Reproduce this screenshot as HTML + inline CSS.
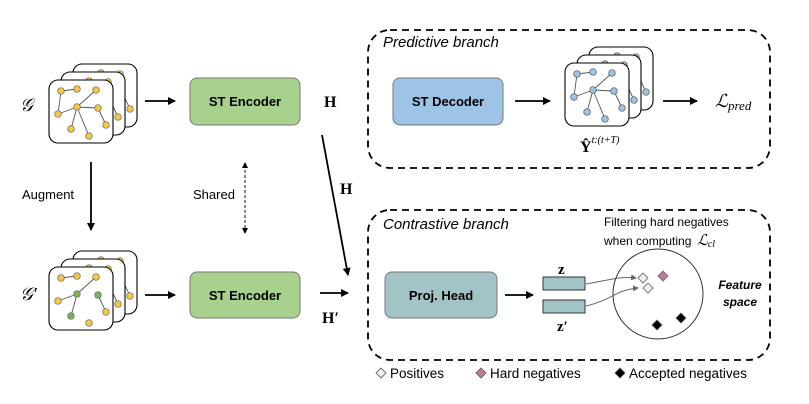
<!DOCTYPE html>
<html><head><style>body{margin:0;background:#fff}svg{display:block}.s{font-family:"Liberation Sans",sans-serif}.r{font-family:"Liberation Serif",serif}</style></head><body>
<svg width="809" height="404" viewBox="0 0 809 404" xmlns="http://www.w3.org/2000/svg">
<defs>
<marker id="a" markerWidth="8" markerHeight="8" refX="7" refY="4" orient="auto" markerUnits="userSpaceOnUse"><path d="M0,0 L8,4 L0,8 z" fill="#000"/></marker>
<marker id="s" markerWidth="6" markerHeight="6" refX="5" refY="3" orient="auto" markerUnits="userSpaceOnUse"><path d="M0,0 L6,3 L0,6 z" fill="#666"/></marker>
<g id="edgesA" stroke="#555" stroke-width="0.9">
<line x1="12" y1="11" x2="28" y2="9"/><line x1="12" y1="11" x2="9" y2="34"/><line x1="9" y1="34" x2="28" y2="27"/><line x1="28" y1="27" x2="47" y2="10"/><line x1="28" y1="27" x2="49" y2="28"/><line x1="49" y1="28" x2="57" y2="45"/><line x1="28" y1="27" x2="22" y2="49"/><line x1="28" y1="27" x2="40" y2="56"/></g>
<g id="card"><rect x="0" y="0" width="64" height="63" rx="9" fill="#fff" stroke="#000" stroke-width="1.1"/></g>
<g id="gY"><use href="#card"/><use href="#edgesA"/><g fill="#f5c842" stroke="#666" stroke-width="0.7">
<circle cx="12" cy="11" r="3.3"/><circle cx="28" cy="9" r="3.3"/><circle cx="47" cy="10" r="3.3"/><circle cx="9" cy="34" r="3.3"/><circle cx="28" cy="27" r="3.3"/><circle cx="49" cy="28" r="3.3"/><circle cx="57" cy="45" r="3.3"/><circle cx="22" cy="49" r="3.3"/><circle cx="40" cy="56" r="3.3"/></g></g>
<g id="gB"><use href="#card"/><use href="#edgesA"/><g fill="#9dc3e6" stroke="#555" stroke-width="0.7">
<circle cx="12" cy="11" r="3.3"/><circle cx="28" cy="9" r="3.3"/><circle cx="47" cy="10" r="3.3"/><circle cx="9" cy="34" r="3.3"/><circle cx="28" cy="27" r="3.3"/><circle cx="49" cy="28" r="3.3"/><circle cx="57" cy="45" r="3.3"/><circle cx="22" cy="49" r="3.3"/><circle cx="40" cy="56" r="3.3"/></g></g>
<g id="gG"><use href="#card"/><g stroke="#555" stroke-width="0.9"><line x1="12" y1="11" x2="28" y2="9"/><line x1="9" y1="34" x2="28" y2="27"/><line x1="28" y1="27" x2="47" y2="10"/><line x1="28" y1="27" x2="22" y2="49"/><line x1="49" y1="28" x2="57" y2="45"/></g>
<g stroke="#666" stroke-width="0.7"><circle cx="12" cy="11" r="3.3" fill="#f5c842"/><circle cx="28" cy="9" r="3.3" fill="#f5c842"/><circle cx="47" cy="10" r="3.3" fill="#f5c842"/><circle cx="9" cy="34" r="3.3" fill="#f5c842"/><circle cx="28" cy="27" r="3.3" fill="#7cb35a"/><circle cx="49" cy="28" r="3.3" fill="#7cb35a"/><circle cx="57" cy="45" r="3.3" fill="#f5c842"/><circle cx="22" cy="49" r="3.3" fill="#7cb35a"/><circle cx="40" cy="56" r="3.3" fill="#f5c842"/></g></g>
</defs>
<use href="#gY" x="73" y="64"/><use href="#gY" x="61" y="72"/><use href="#gY" x="49" y="80"/>
<use href="#gG" x="73" y="251"/><use href="#gG" x="61" y="259"/><use href="#gG" x="49" y="267"/>
<use href="#gB" x="589" y="47"/><use href="#gB" x="577" y="55"/><use href="#gB" x="565" y="63"/>
<text x="20" y="111" class="r" font-style="italic" font-size="18">𝒢</text>
<text x="20" y="300" class="r" font-style="italic" font-size="18">𝒢′</text>
<rect x="368" y="30" width="402" height="138" rx="22" fill="none" stroke="#000" stroke-width="1.8" stroke-dasharray="7,5"/>
<rect x="368" y="210" width="402" height="150" rx="22" fill="none" stroke="#000" stroke-width="1.8" stroke-dasharray="7,5"/>
<text x="383" y="47" class="s" font-style="italic" font-size="15">Predictive branch</text>
<text x="383" y="229" class="s" font-style="italic" font-size="15">Contrastive branch</text>
<rect x="190" y="78" width="110" height="47" rx="7" fill="#a9d18e" stroke="#777"/>
<text x="245" y="106" text-anchor="middle" class="s" font-weight="bold" font-size="13">ST Encoder</text>
<rect x="190" y="272" width="110" height="46" rx="7" fill="#a9d18e" stroke="#777"/>
<text x="245" y="300" text-anchor="middle" class="s" font-weight="bold" font-size="13">ST Encoder</text>
<rect x="393" y="78" width="110" height="47" rx="7" fill="#9dc3e6" stroke="#777"/>
<text x="448" y="106" text-anchor="middle" class="s" font-weight="bold" font-size="13">ST Decoder</text>
<rect x="385" y="272" width="112" height="46" rx="7" fill="#a3c4c7" stroke="#777"/>
<text x="441" y="300" text-anchor="middle" class="s" font-weight="bold" font-size="13">Proj. Head</text>
<g stroke="#000" stroke-width="1.8" fill="none">
<line x1="145" y1="101" x2="175" y2="101" marker-end="url(#a)"/>
<line x1="145" y1="295" x2="175" y2="295" marker-end="url(#a)"/>
<line x1="91" y1="162" x2="91" y2="230" marker-end="url(#a)"/>
<line x1="320" y1="293" x2="348" y2="293" marker-end="url(#a)"/>
<line x1="322" y1="135" x2="348" y2="275" marker-end="url(#a)"/>
<line x1="515" y1="101" x2="550" y2="101" marker-end="url(#a)"/>
<line x1="663" y1="101" x2="697" y2="101" marker-end="url(#a)"/>
<line x1="505" y1="295" x2="533" y2="295" marker-end="url(#a)"/>
</g>
<line x1="245" y1="165" x2="245" y2="230" stroke="#000" stroke-width="0.9" stroke-dasharray="3,2"/>
<path d="M245,162 l-3,6 h6z M245,234 l-3,-6 h6z" fill="#000"/>
<text x="22" y="199" class="s" font-size="13">Augment</text>
<text x="193" y="199" class="s" font-size="13">Shared</text>
<text x="324" y="107" class="r" font-weight="bold" font-size="16">H</text>
<text x="340" y="194" class="r" font-weight="bold" font-size="16">H</text>
<text x="322" y="323" class="r" font-weight="bold" font-size="16">H′</text>
<text x="580" y="152" class="r" font-weight="bold" font-size="16">Ŷ<tspan font-weight="normal" font-style="italic" font-size="10" dy="-9">t:(t+T)</tspan></text>
<text x="715" y="107" class="r" font-style="italic" font-size="18">ℒ<tspan font-size="13" dy="3">pred</tspan></text>
<rect x="543" y="277" width="42" height="13" fill="#a3c4c7" stroke="#333"/>
<rect x="543" y="300" width="42" height="13" fill="#a3c4c7" stroke="#333"/>
<text x="558" y="274" class="r" font-weight="bold" font-size="15">z</text>
<text x="557" y="331" class="r" font-weight="bold" font-size="15">z′</text>
<circle cx="658" cy="294" r="45" fill="none" stroke="#333"/>
<path d="M586,284 C610,280 620,276 636,278" stroke="#666" fill="none" marker-end="url(#s)"/>
<path d="M586,306 C612,300 615,290 638,288" stroke="#666" fill="none" marker-end="url(#s)"/>
<g stroke="#666" stroke-width="0.8">
<path d="M643,273 l5,5 l-5,5 l-5,-5z" fill="#eee"/>
<path d="M648,283 l5,5 l-5,5 l-5,-5z" fill="#eee"/>
<path d="M663,271 l5,5 l-5,5 l-5,-5z" fill="#c07a9a"/>
<path d="M657,320 l5,5 l-5,5 l-5,-5z" fill="#000"/>
<path d="M681,313 l5,5 l-5,5 l-5,-5z" fill="#000"/></g>
<text x="740" y="289" text-anchor="middle" class="s" font-weight="bold" font-style="italic" font-size="12">Feature</text>
<text x="740" y="306" text-anchor="middle" class="s" font-weight="bold" font-style="italic" font-size="12">space</text>
<text x="604" y="226" class="s" font-size="12">Filtering hard negatives</text>
<text x="604" y="245" class="s" font-size="12">when computing </text>
<text x="697" y="245" class="r" font-style="italic" font-size="15">ℒ<tspan font-size="10" dy="2">cl</tspan></text>
<g stroke="#555" stroke-width="0.8">
<path d="M381,368 l5,5 l-5,5 l-5,-5z" fill="#eee"/>
<path d="M481,368 l5,5 l-5,5 l-5,-5z" fill="#c07a9a"/>
<path d="M620,368 l5,5 l-5,5 l-5,-5z" fill="#000"/></g>
<text x="390" y="378" class="s" font-size="13.5">Positives</text>
<text x="490" y="378" class="s" font-size="13.5">Hard negatives</text>
<text x="629" y="378" class="s" font-size="13.5">Accepted negatives</text>
</svg>
</body></html>
